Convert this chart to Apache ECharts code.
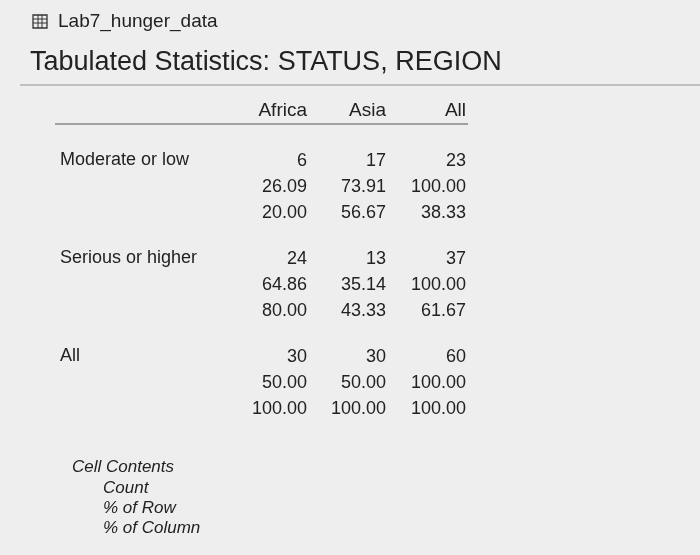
<!DOCTYPE html>
<html>
<head>
<meta charset="utf-8">
<script src="https://cdn.jsdelivr.net/npm/echarts@6/dist/echarts.min.js"></script>
<style>
  html, body { margin: 0; padding: 0; background: #eeeeee; }
  #chart { width: 700px; height: 555px; }
</style>
</head>
<body>
<div id="chart"></div>
<script>
// table data
const columns = ['Africa', 'Asia', 'All'];
const rowLabels = ['Moderate or low', 'Serious or higher', 'All'];
const counts = [[6, 17, 23], [24, 13, 37], [30, 30, 60]];
const pctRow = [['26.09', '73.91', '100.00'], ['64.86', '35.14', '100.00'], ['50.00', '50.00', '100.00']];
const pctCol = [['20.00', '56.67', '38.33'], ['80.00', '43.33', '61.67'], ['100.00', '100.00', '100.00']];
const cellContents = ['Count', '% of Row', '% of Column'];

const chart = echarts.init(document.getElementById('chart'));
const font = '"Helvetica Neue", "Liberation Sans", Arial, sans-serif';
const colX = [307, 386, 466];
const txt = (x, y, text, size, align, extra) => ({
  type: 'text', x: x, y: y,
  style: Object.assign({ text: String(text), fill: '#222', font: size + 'px ' + font,
    align: align || 'left', verticalAlign: 'middle' }, extra || {})
});

const els = [];
// icon
els.push({ type: 'rect', shape: { x: 33, y: 15, width: 14, height: 13 },
  style: { fill: 'none', stroke: '#333', lineWidth: 1.3 } });
[19, 23].forEach(y => els.push({ type: 'line', shape: { x1: 33, y1: y, x2: 47, y2: y }, style: { stroke: '#333' } }));
[38, 42].forEach(x => els.push({ type: 'line', shape: { x1: x, y1: 15, x2: x, y2: 28 }, style: { stroke: '#333' } }));
els.push(txt(58, 22, 'Lab7_hunger_data', 19));
els.push(txt(30, 63, 'Tabulated Statistics: STATUS, REGION', 27));
els.push({ type: 'line', shape: { x1: 20, y1: 85, x2: 700, y2: 85 }, style: { stroke: '#b0b0b0', lineWidth: 1.5 } });
columns.forEach((c, i) => els.push(txt(colX[i], 111, c, 19, 'right')));
els.push({ type: 'line', shape: { x1: 55, y1: 124, x2: 468, y2: 124 }, style: { stroke: '#555', lineWidth: 1.2 } });

rowLabels.forEach((lab, r) => {
  const y0 = 161 + r * 98;
  els.push(txt(60, y0 - 1, lab, 18));
  [counts, pctRow, pctCol].forEach((arr, k) => {
    arr[r].forEach((v, i) => els.push(txt(colX[i], y0 + k * 26, v, 18, 'right')));
  });
});

els.push(txt(72, 467, 'Cell Contents', 17, 'left', { font: 'italic 17px ' + font }));
cellContents.forEach((c, i) => els.push(txt(103, 488 + i * 20, c, 17, 'left', { font: 'italic 17px ' + font })));

chart.setOption({ backgroundColor: '#eeeeee', graphic: { elements: els } });
</script>
</body>
</html>
